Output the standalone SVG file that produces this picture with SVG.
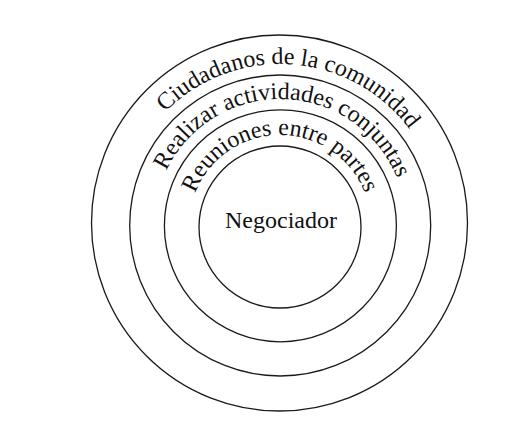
<svg xmlns="http://www.w3.org/2000/svg" width="510" height="433" viewBox="0 0 510 433">
<style>
.ring{fill:none;stroke:#1a1a1a;stroke-width:1.3}
.lbl{font-family:"Liberation Serif","Times New Roman",serif;font-size:24px;fill:#111}
</style>
<defs>
<path id="p1" d="M119,225 A161,161 0 0 1 441,225"/>
<path id="p2" d="M154,225 A126,126 0 0 1 406,225"/>
<path id="p3" d="M189,226 A91,91 0 0 1 371,226"/>
</defs>
<rect width="510" height="433" fill="#fff"/>
<g id="connectors"></g>
<g id="ring-ciudadanos">
<circle class="ring" cx="279.5" cy="223" r="188"/>
<text class="lbl"><textPath href="#p1" startOffset="264" text-anchor="middle">Ciudadanos de la comunidad</textPath></text>
</g>
<g id="ring-realizar">
<circle class="ring" cx="280.2" cy="225.5" r="150.5"/>
<text class="lbl"><textPath href="#p2" startOffset="202" text-anchor="middle">Realizar actividades conjuntas</textPath></text>
</g>
<g id="ring-reuniones">
<circle class="ring" cx="280.4" cy="225.8" r="116"/>
<text class="lbl" font-size="23"><textPath href="#p3" startOffset="50%" text-anchor="middle">Reuniones entre partes</textPath></text>
</g>
<g id="negociador">
<circle class="ring" cx="280" cy="227" r="81"/>
<text class="lbl" x="281" y="228" font-size="26" text-anchor="middle">Negociador</text>
</g>
</svg>
